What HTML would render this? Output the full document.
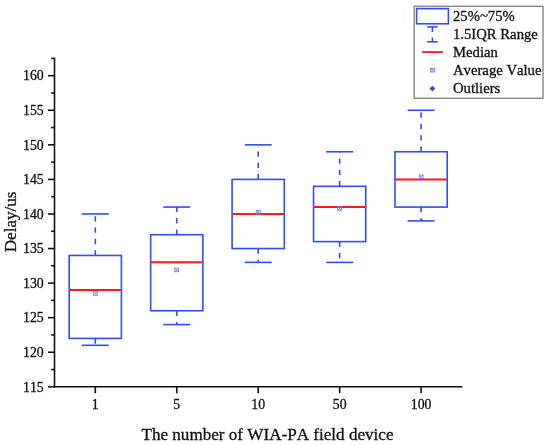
<!DOCTYPE html><html><head><meta charset="utf-8"><style>html,body{margin:0;padding:0;background:#fff;}svg{display:block}text{font-family:"Liberation Serif",serif;fill:#111;font-kerning:none;stroke:#111;stroke-width:0.3px}</style></head><body>
<svg width="550" height="445" viewBox="0 0 550 445">
<line x1="95.30" y1="255.45" x2="95.30" y2="213.97" stroke="#2e4dff" stroke-width="1.6" stroke-dasharray="5.3 6"/>
<line x1="95.30" y1="338.41" x2="95.30" y2="345.32" stroke="#2e4dff" stroke-width="1.6" stroke-dasharray="5.3 6"/>
<line x1="81.80" y1="213.97" x2="108.80" y2="213.97" stroke="#2e4dff" stroke-width="1.6"/>
<line x1="81.80" y1="345.32" x2="108.80" y2="345.32" stroke="#2e4dff" stroke-width="1.6"/>
<rect x="69.20" y="255.45" width="52.20" height="82.96" fill="none" stroke="#2e4dff" stroke-width="1.6"/>
<line x1="69.20" y1="290.02" x2="121.40" y2="290.02" stroke="#ff1a1a" stroke-width="2"/>
<g stroke="#6a7cff" stroke-width="0.8" fill="none"><rect x="93.30" y="291.67" width="4.00" height="3.60"/><path d="M93.30 291.67L97.30 295.27M97.30 291.67L93.30 295.27"/></g>
<line x1="176.75" y1="234.71" x2="176.75" y2="207.06" stroke="#2e4dff" stroke-width="1.6" stroke-dasharray="5.3 6"/>
<line x1="176.75" y1="310.76" x2="176.75" y2="324.58" stroke="#2e4dff" stroke-width="1.6" stroke-dasharray="5.3 6"/>
<line x1="163.25" y1="207.06" x2="190.25" y2="207.06" stroke="#2e4dff" stroke-width="1.6"/>
<line x1="163.25" y1="324.58" x2="190.25" y2="324.58" stroke="#2e4dff" stroke-width="1.6"/>
<rect x="150.65" y="234.71" width="52.20" height="76.04" fill="none" stroke="#2e4dff" stroke-width="1.6"/>
<line x1="150.65" y1="262.37" x2="202.85" y2="262.37" stroke="#ff1a1a" stroke-width="2"/>
<g stroke="#6a7cff" stroke-width="0.8" fill="none"><rect x="174.75" y="268.17" width="4.00" height="3.60"/><path d="M174.75 268.17L178.75 271.77M178.75 268.17L174.75 271.77"/></g>
<line x1="258.20" y1="179.41" x2="258.20" y2="144.84" stroke="#2e4dff" stroke-width="1.6" stroke-dasharray="5.3 6"/>
<line x1="258.20" y1="248.54" x2="258.20" y2="262.37" stroke="#2e4dff" stroke-width="1.6" stroke-dasharray="5.3 6"/>
<line x1="244.70" y1="144.84" x2="271.70" y2="144.84" stroke="#2e4dff" stroke-width="1.6"/>
<line x1="244.70" y1="262.37" x2="271.70" y2="262.37" stroke="#2e4dff" stroke-width="1.6"/>
<rect x="232.10" y="179.41" width="52.20" height="69.13" fill="none" stroke="#2e4dff" stroke-width="1.6"/>
<line x1="232.10" y1="213.97" x2="284.30" y2="213.97" stroke="#ff1a1a" stroke-width="2"/>
<g stroke="#6a7cff" stroke-width="0.8" fill="none"><rect x="256.20" y="210.38" width="4.00" height="3.60"/><path d="M256.20 210.38L260.20 213.98M260.20 210.38L256.20 213.98"/></g>
<line x1="339.65" y1="186.32" x2="339.65" y2="151.76" stroke="#2e4dff" stroke-width="1.6" stroke-dasharray="5.3 6"/>
<line x1="339.65" y1="241.63" x2="339.65" y2="262.37" stroke="#2e4dff" stroke-width="1.6" stroke-dasharray="5.3 6"/>
<line x1="326.15" y1="151.76" x2="353.15" y2="151.76" stroke="#2e4dff" stroke-width="1.6"/>
<line x1="326.15" y1="262.37" x2="353.15" y2="262.37" stroke="#2e4dff" stroke-width="1.6"/>
<rect x="313.55" y="186.32" width="52.20" height="55.30" fill="none" stroke="#2e4dff" stroke-width="1.6"/>
<line x1="313.55" y1="207.06" x2="365.75" y2="207.06" stroke="#ff1a1a" stroke-width="2"/>
<g stroke="#6a7cff" stroke-width="0.8" fill="none"><rect x="337.65" y="206.71" width="4.00" height="3.60"/><path d="M337.65 206.71L341.65 210.31M341.65 206.71L337.65 210.31"/></g>
<line x1="421.10" y1="151.76" x2="421.10" y2="110.28" stroke="#2e4dff" stroke-width="1.6" stroke-dasharray="5.3 6"/>
<line x1="421.10" y1="207.06" x2="421.10" y2="220.89" stroke="#2e4dff" stroke-width="1.6" stroke-dasharray="5.3 6"/>
<line x1="407.60" y1="110.28" x2="434.60" y2="110.28" stroke="#2e4dff" stroke-width="1.6"/>
<line x1="407.60" y1="220.89" x2="434.60" y2="220.89" stroke="#2e4dff" stroke-width="1.6"/>
<rect x="395.00" y="151.76" width="52.20" height="55.30" fill="none" stroke="#2e4dff" stroke-width="1.6"/>
<line x1="395.00" y1="179.41" x2="447.20" y2="179.41" stroke="#ff1a1a" stroke-width="2"/>
<g stroke="#6a7cff" stroke-width="0.8" fill="none"><rect x="419.10" y="174.98" width="4.00" height="3.60"/><path d="M419.10 174.98L423.10 178.58M423.10 174.98L419.10 178.58"/></g>
<g stroke="#111" stroke-width="1.6" fill="none">
<line x1="54.5" y1="57.73" x2="54.5" y2="387.60"/>
<line x1="53.7" y1="386.80" x2="462.5" y2="386.80"/>
<line x1="48" y1="386.80" x2="54.5" y2="386.80"/>
<line x1="48" y1="352.24" x2="54.5" y2="352.24"/>
<line x1="48" y1="317.67" x2="54.5" y2="317.67"/>
<line x1="48" y1="283.11" x2="54.5" y2="283.11"/>
<line x1="48" y1="248.54" x2="54.5" y2="248.54"/>
<line x1="48" y1="213.97" x2="54.5" y2="213.97"/>
<line x1="48" y1="179.41" x2="54.5" y2="179.41"/>
<line x1="48" y1="144.84" x2="54.5" y2="144.84"/>
<line x1="48" y1="110.28" x2="54.5" y2="110.28"/>
<line x1="48" y1="75.71" x2="54.5" y2="75.71"/>
<line x1="51.2" y1="369.52" x2="54.5" y2="369.52"/>
<line x1="51.2" y1="334.95" x2="54.5" y2="334.95"/>
<line x1="51.2" y1="300.39" x2="54.5" y2="300.39"/>
<line x1="51.2" y1="265.82" x2="54.5" y2="265.82"/>
<line x1="51.2" y1="231.26" x2="54.5" y2="231.26"/>
<line x1="51.2" y1="196.69" x2="54.5" y2="196.69"/>
<line x1="51.2" y1="162.13" x2="54.5" y2="162.13"/>
<line x1="51.2" y1="127.56" x2="54.5" y2="127.56"/>
<line x1="51.2" y1="93.00" x2="54.5" y2="93.00"/>
<line x1="51.2" y1="58.43" x2="54.5" y2="58.43"/>
<line x1="95.30" y1="386.80" x2="95.30" y2="393.3"/>
<line x1="176.75" y1="386.80" x2="176.75" y2="393.3"/>
<line x1="258.20" y1="386.80" x2="258.20" y2="393.3"/>
<line x1="339.65" y1="386.80" x2="339.65" y2="393.3"/>
<line x1="421.10" y1="386.80" x2="421.10" y2="393.3"/>
</g>
<text x="43.7" y="391.50" font-size="13.8" text-anchor="end">115</text>
<text x="43.7" y="356.94" font-size="13.8" text-anchor="end">120</text>
<text x="43.7" y="322.37" font-size="13.8" text-anchor="end">125</text>
<text x="43.7" y="287.81" font-size="13.8" text-anchor="end">130</text>
<text x="43.7" y="253.24" font-size="13.8" text-anchor="end">135</text>
<text x="43.7" y="218.67" font-size="13.8" text-anchor="end">140</text>
<text x="43.7" y="184.11" font-size="13.8" text-anchor="end">145</text>
<text x="43.7" y="149.54" font-size="13.8" text-anchor="end">150</text>
<text x="43.7" y="114.98" font-size="13.8" text-anchor="end">155</text>
<text x="43.7" y="80.41" font-size="13.8" text-anchor="end">160</text>
<text x="95.30" y="409" font-size="13.8" text-anchor="middle">1</text>
<text x="176.75" y="409" font-size="13.8" text-anchor="middle">5</text>
<text x="258.20" y="409" font-size="13.8" text-anchor="middle">10</text>
<text x="339.65" y="409" font-size="13.8" text-anchor="middle">50</text>
<text x="421.10" y="409" font-size="13.8" text-anchor="middle">100</text>
<text x="267.5" y="439.5" font-size="17.1" text-anchor="middle">The number of WIA-PA field device</text>
<text transform="translate(15.6,221.9) rotate(-90)" font-size="17.1" text-anchor="middle">Delay/us</text>
<rect x="414.2" y="6.3" width="128.8" height="92" fill="#fff" stroke="#888" stroke-width="1.4"/>
<rect x="416.6" y="8.6" width="31.8" height="15.2" fill="none" stroke="#2e4dff" stroke-width="1.6"/>
<g stroke="#2e4dff" stroke-width="1.6"><line x1="427.2" y1="26.9" x2="437.7" y2="26.9"/><line x1="427.2" y1="41.8" x2="437.7" y2="41.8"/><line x1="432.4" y1="27" x2="432.4" y2="32"/><line x1="432.4" y1="37.5" x2="432.4" y2="41.8"/></g>
<line x1="422" y1="52.1" x2="442.9" y2="52.1" stroke="#ff1a1a" stroke-width="1.8"/>
<g stroke="#6a7cff" stroke-width="0.8" fill="none"><rect x="430.40" y="68.40" width="4.00" height="3.60"/><path d="M430.40 68.40L434.40 72.00M434.40 68.40L430.40 72.00"/></g>
<path d="M432.4 85.7L435.29999999999995 88.6L432.4 91.5L429.5 88.6Z" fill="#2e4dff"/>
<text x="453" y="21" font-size="14.7">25%~75%</text>
<text x="453" y="39.2" font-size="14.7">1.5IQR Range</text>
<text x="453" y="56.9" font-size="14.7">Median</text>
<text x="453" y="74.9" font-size="14.7">Average Value</text>
<text x="453" y="92.7" font-size="14.7">Outliers</text>
</svg></body></html>
